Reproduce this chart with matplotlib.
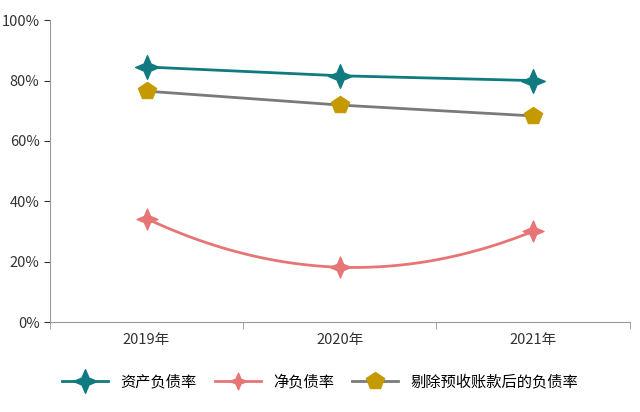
import numpy as np
import matplotlib.pyplot as plt
from matplotlib.path import Path

plt.rcParams['font.family'] = ['Noto Sans CJK SC', 'DejaVu Sans']

years = ['2019年', '2020年', '2021年']
debt_ratio = [84.5, 81.6, 80.0]
net_debt_ratio = [34.3, 18.2, 30.1]
adj_debt_ratio = [76.5, 71.9, 68.3]

x = np.arange(len(years))

# four-point star marker
t = np.linspace(0, 2 * np.pi, 9)[:-1]
r = np.where(np.arange(8) % 2 == 0, 1.0, 0.42)
star4 = list(zip(r * np.sin(t), r * np.cos(t)))
star4 = Path(star4 + [star4[0]], closed=True)

fig = plt.figure(figsize=(6.4, 4.12), dpi=100)
ax = fig.add_axes([0.078, 0.218, 0.906, 0.733])

teal = '#0f7a80'
red = '#e87575'
gray = '#7a7a7a'
gold = '#c49a00'

ax.plot(x, debt_ratio, color=teal, lw=2, marker=star4, ms=17, mfc=teal, mec=teal,
        label='资产负债率')
# smooth curve through the three points
coef = np.polyfit(x, net_debt_ratio, 2)
xs = np.linspace(0, 2, 100)
ax.plot(xs, np.polyval(coef, xs), color=red, lw=2)
ax.plot(x, net_debt_ratio, color=red, lw=0, marker=star4, ms=15)
ax.plot([], [], color=red, lw=2, marker=star4, ms=12, label='净负债率')
ax.plot(x, adj_debt_ratio, color=gray, lw=2, marker='p', ms=13, mfc=gold, mec=gold,
        label='剔除预收账款后的负债率')

ax.set_xlim(-0.5, 2.5)
ax.set_ylim(0, 100)
ax.set_yticks(range(0, 101, 20))
ax.set_yticklabels([f'{v}%' for v in range(0, 101, 20)])
ax.set_xticks(x)
ax.set_xticklabels(years)
ax.set_xticks([-0.5, 0.5, 1.5, 2.5], minor=True)
ax.tick_params(axis='x', which='major', length=0, pad=8)
ax.tick_params(axis='x', which='minor', length=5, color='#999999')
ax.tick_params(axis='y', length=4, color='#999999')
ax.tick_params(labelsize=10.5, colors='#333333')
for s in ['top', 'right']:
    ax.spines[s].set_visible(False)
for s in ['left', 'bottom']:
    ax.spines[s].set_color('#999999')

fig.legend(loc='center', bbox_to_anchor=(0.5, 0.073), ncol=3, frameon=False,
           fontsize=11, handlelength=3, columnspacing=1.2)
fig.savefig('out.png', dpi=100)
